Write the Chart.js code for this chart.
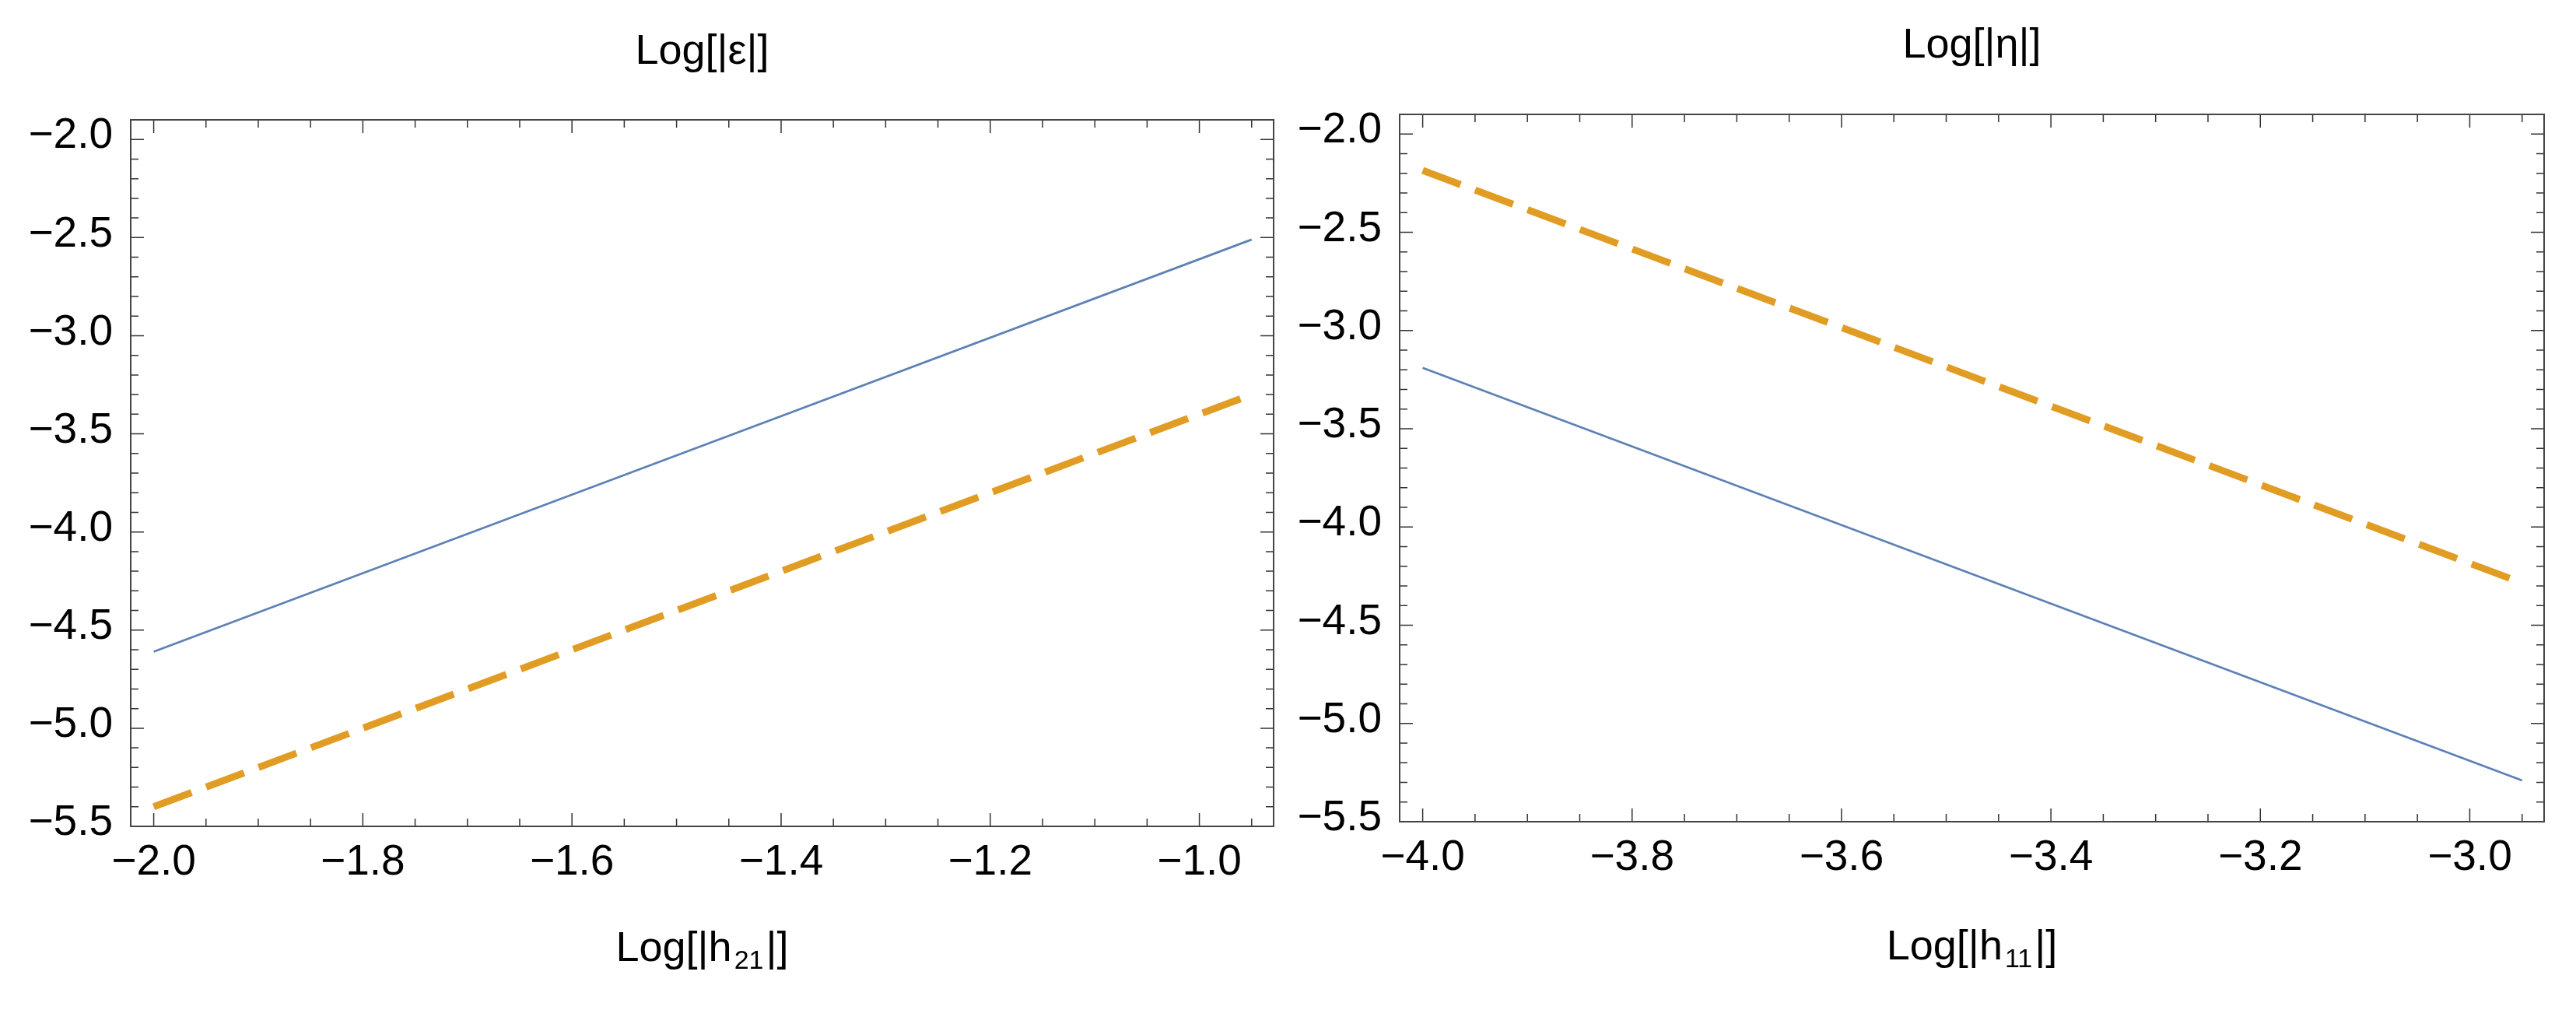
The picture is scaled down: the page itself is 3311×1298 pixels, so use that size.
<!DOCTYPE html>
<html>
<head>
<meta charset="utf-8">
<script src="https://cdn.jsdelivr.net/npm/chart.js@4.4.1/dist/chart.umd.min.js"></script>
<style>
  html, body { margin: 0; padding: 0; background: #fff; }
  body { width: 3311px; height: 1298px; position: relative; overflow: hidden; }
  canvas { position: absolute; top: 0; }
  #epsChart { left: 0; }
  #etaChart { left: 1645px; }
</style>
</head>
<body>
<canvas id="epsChart" width="1645" height="1298"></canvas>
<canvas id="etaChart" width="1666" height="1298"></canvas>
<script>
// left panel: Log[|eps|] against Log[|h21|]
const epsX = [-2.0, -1.5, -0.95];
const epsSolid = [-4.61, -3.61, -2.51];
const epsDashed = [-5.40, -4.40, -3.30];
const epsXTicks = [-2.0, -1.8, -1.6, -1.4, -1.2, -1.0];

// right panel: Log[|eta|] against Log[|h11|]
const etaX = [-4.0, -3.5, -2.95];
const etaSolid = [-3.19, -4.19, -5.29];
const etaDashed = [-2.185, -3.185, -4.285];
const etaXTicks = [-4.0, -3.8, -3.6, -3.4, -3.2, -3.0];

const yTicks = [-5.5, -5.0, -4.5, -4.0, -3.5, -3.0, -2.5, -2.0];

const BLUE = '#5E81B5';
const ORANGE = '#E19C24';
const FONT = '"Liberation Sans", Arial, sans-serif';

const fmt = v => (v < 0 ? '\u2212' : '') + Math.abs(v).toFixed(1);

// Mathematica-style frame with inward ticks on all four sides
const frameTicks = {
  id: 'frameTicks',
  afterDatasetsDraw(chart, args, o) {
    const { ctx, chartArea: a, scales: { x, y } } = chart;
    const isMajor = (v, list) => list.some(t => Math.abs(t - v) < 1e-6);
    const steps = (scale, step) => {
      const out = [];
      for (let k = Math.ceil(scale.min / step - 1e-9); k <= Math.floor(scale.max / step + 1e-9); k++) out.push(k * step);
      return out;
    };
    ctx.save();
    ctx.strokeStyle = '#333';
    ctx.lineWidth = 1.5;
    ctx.beginPath();
    steps(x, 0.05).forEach(v => {
      const px = x.getPixelForValue(v);
      const len = isMajor(v, o.xMajor) ? 17 : 10;
      ctx.moveTo(px, a.bottom); ctx.lineTo(px, a.bottom - len);
      ctx.moveTo(px, a.top); ctx.lineTo(px, a.top + len);
    });
    steps(y, 0.1).forEach(v => {
      const py = y.getPixelForValue(v);
      const len = isMajor(v, yTicks) ? 17 : 10;
      ctx.moveTo(a.left, py); ctx.lineTo(a.left + len, py);
      ctx.moveTo(a.right, py); ctx.lineTo(a.right - len, py);
    });
    ctx.stroke();
    ctx.strokeStyle = '#444';
    ctx.lineWidth = 2;
    ctx.strokeRect(a.left, a.top, a.right - a.left, a.bottom - a.top);
    ctx.restore();
  }
};

// x axis title with a real subscript
const axisTitle = {
  id: 'axisTitle',
  afterDraw(chart, args, o) {
    const { ctx, chartArea: a } = chart;
    const big = '54px ' + FONT, small = '34px ' + FONT;
    ctx.save();
    ctx.font = big;
    const w1 = ctx.measureText(o.pre).width, w3 = ctx.measureText(o.post).width;
    ctx.font = small;
    const w2 = ctx.measureText(o.sub).width;
    const gap = 3;
    let x = (a.left + a.right) / 2 - (w1 + gap + w2 + gap + w3) / 2;
    const base = a.bottom + o.baseline;
    ctx.fillStyle = '#000';
    ctx.textAlign = 'left';
    ctx.textBaseline = 'alphabetic';
    ctx.font = big; ctx.fillText(o.pre, x, base); x += w1 + gap;
    ctx.font = small; ctx.fillText(o.sub, x, base + 10); x += w2 + gap;
    ctx.font = big; ctx.fillText(o.post, x, base);
    ctx.restore();
  }
};

function makeChart(id, p) {
  const pts = ys => p.xs.map((x, i) => ({ x, y: ys[i] }));
  return new Chart(document.getElementById(id), {
    type: 'line',
    data: {
      datasets: [
        { data: pts(p.solid), borderColor: BLUE, borderWidth: 2.8, pointRadius: 0, tension: 0, fill: false },
        { data: pts(p.dashed), borderColor: ORANGE, borderWidth: 9, borderDash: [52, 20], borderCapStyle: 'butt', pointRadius: 0, tension: 0, fill: false }
      ]
    },
    options: {
      responsive: false,
      animation: false,
      devicePixelRatio: 1,
      layout: { padding: { left: 0, right: p.padRight, top: 0, bottom: 0 } },
      plugins: {
        legend: { display: false },
        tooltip: { enabled: false },
        title: {
          display: true,
          text: p.title,
          fullSize: false,
          color: '#000',
          font: { family: FONT, size: 54, weight: 'normal', lineHeight: 1 },
          padding: { top: p.titleTop, bottom: p.titleBottom }
        },
        frameTicks: { xMajor: p.xTicks },
        axisTitle: { pre: 'Log[|h', sub: p.sub, post: '|]', baseline: p.xTitleBase }
      },
      scales: {
        x: {
          type: 'linear',
          min: p.xMin,
          max: p.xMax,
          grid: { display: false, drawTicks: false },
          border: { display: false },
          afterBuildTicks: s => { s.ticks = p.xTicks.map(v => ({ value: v })); },
          afterFit: s => { s.height = p.xAxisH; },
          ticks: { autoSkip: false, maxRotation: 0, padding: 14, color: '#000', font: { family: FONT, size: 55 }, callback: fmt }
        },
        y: {
          min: -5.5,
          max: -1.9,
          grid: { display: false, drawTicks: false },
          border: { display: false },
          afterBuildTicks: s => { s.ticks = yTicks.map(v => ({ value: v })); },
          afterFit: s => { s.width = p.yAxisW; },
          ticks: { autoSkip: false, padding: 23, labelOffset: -4, color: '#000', font: { family: FONT, size: 55 }, callback: fmt }
        }
      }
    },
    plugins: [frameTicks, axisTitle]
  });
}

makeChart('epsChart', {
  xs: epsX, solid: epsSolid, dashed: epsDashed, xTicks: epsXTicks,
  xMin: -2.022, xMax: -0.929,
  title: 'Log[|\u03b5|]', sub: '21',
  titleTop: 40, titleBottom: 60,
  yAxisW: 168, xAxisH: 236, padRight: 8, xTitleBase: 173
});

makeChart('etaChart', {
  xs: etaX, solid: etaSolid, dashed: etaDashed, xTicks: etaXTicks,
  xMin: -4.022, xMax: -2.929,
  title: 'Log[|\u03b7|]', sub: '11',
  titleTop: 32, titleBottom: 61,
  yAxisW: 154, xAxisH: 242, padRight: 41, xTitleBase: 177
});
</script>
</body>
</html>
